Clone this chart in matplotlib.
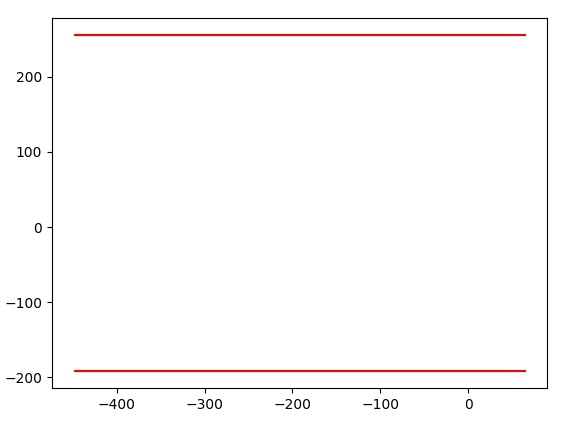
import matplotlib
matplotlib.use("Agg")
import matplotlib.pyplot as plt

# two horizontal boundary lines
x_start = [-448, -448]
x_end = [64, 64]
y_levels = [256, -192]

fig = plt.figure(figsize=(5.78, 4.22), dpi=100)
ax = fig.add_axes([52 / 578, 1 - 388 / 422, 495 / 578, 370 / 422])
for x0, x1, y in zip(x_start, x_end, y_levels):
    ax.plot([x0, x1], [y, y], color='red')

fig.savefig("out.png", dpi=100)
